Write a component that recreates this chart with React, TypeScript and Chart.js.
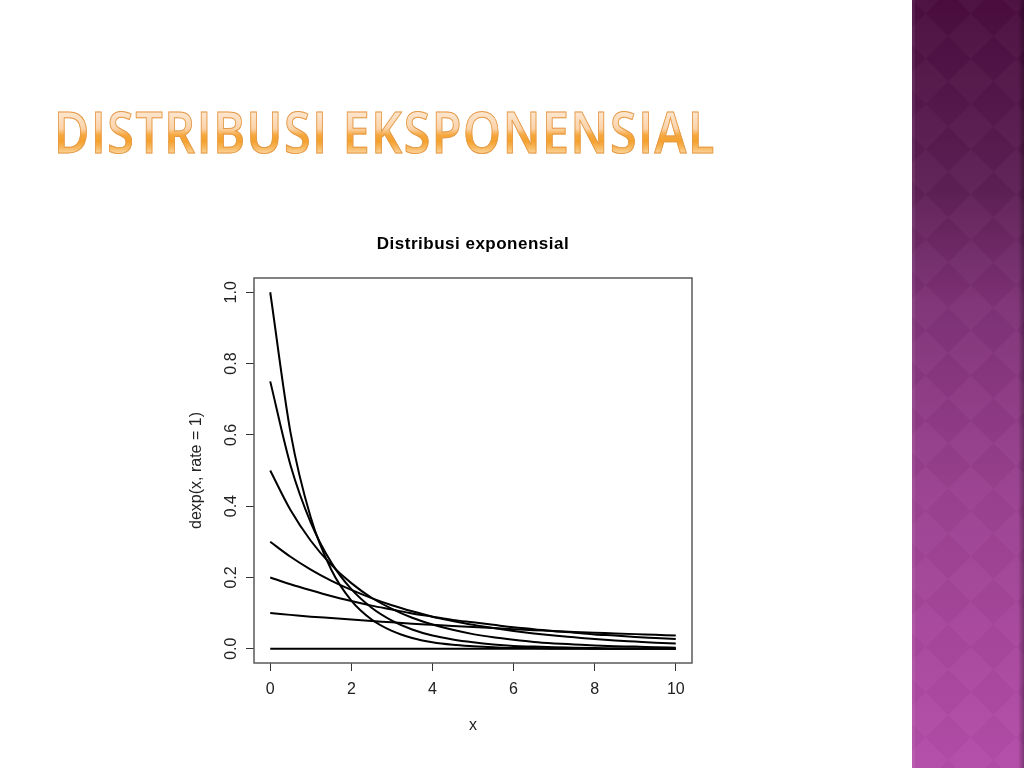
import { useEffect, useLayoutEffect, useRef } from 'react'
import { Chart, registerables, Plugin } from 'chart.js'

Chart.register(...registerables)

const slideTitle = 'DISTRIBUSI EKSPONENSIAL'
const chartTitle = 'Distribusi exponensial'
const xAxisTitle = 'x'
const yAxisTitle = 'dexp(x, rate = 1)'

const xValues = [0, 0.5, 1, 1.5, 2, 2.5, 3, 3.5, 4, 4.5, 5, 5.5, 6, 6.5, 7, 7.5, 8, 8.5, 9, 9.5, 10]

// one curve per rate
const rate1 = [1.0, 0.607, 0.368, 0.223, 0.135, 0.082, 0.05, 0.03, 0.018, 0.011, 0.007, 0.004, 0.002, 0.002, 0.001, 0.001, 0.0, 0.0, 0.0, 0.0, 0.0]
const rate075 = [0.75, 0.515, 0.354, 0.243, 0.167, 0.115, 0.079, 0.054, 0.037, 0.026, 0.018, 0.012, 0.008, 0.006, 0.004, 0.003, 0.002, 0.001, 0.001, 0.001, 0.0]
const rate05 = [0.5, 0.389, 0.303, 0.236, 0.184, 0.143, 0.112, 0.087, 0.068, 0.053, 0.041, 0.032, 0.025, 0.019, 0.015, 0.012, 0.009, 0.007, 0.006, 0.004, 0.003]
const rate03 = [0.3, 0.258, 0.222, 0.191, 0.165, 0.142, 0.122, 0.105, 0.09, 0.078, 0.067, 0.058, 0.05, 0.043, 0.037, 0.032, 0.027, 0.023, 0.02, 0.017, 0.015]
const rate02 = [0.2, 0.181, 0.164, 0.148, 0.134, 0.121, 0.11, 0.099, 0.09, 0.081, 0.074, 0.067, 0.06, 0.055, 0.049, 0.045, 0.04, 0.037, 0.033, 0.03, 0.027]
const rate01 = [0.1, 0.095, 0.09, 0.086, 0.082, 0.078, 0.074, 0.07, 0.067, 0.064, 0.061, 0.058, 0.055, 0.052, 0.05, 0.047, 0.045, 0.043, 0.041, 0.039, 0.037]
const rate0 = [0, 0, 0, 0, 0, 0, 0, 0, 0, 0, 0, 0, 0, 0, 0, 0, 0, 0, 0, 0, 0]

const rateLabels = ['1', '0.75', '0.5', '0.3', '0.2', '0.1', '0']
const series = [rate1, rate075, rate05, rate03, rate02, rate01, rate0]

const xTicks = [0, 2, 4, 6, 8, 10]
const yTicks = [0, 0.2, 0.4, 0.6, 0.8, 1.0]

const FONT = '"Liberation Sans", Arial, Helvetica, sans-serif'

const framePlugin: Plugin<'line'> = {
  id: 'frame',
  afterDraw(chart) {
    const { ctx, chartArea: a, scales } = chart
    ctx.save()
    ctx.strokeStyle = '#5a5a5a'
    ctx.lineWidth = 1.5
    ctx.strokeRect(a.left, a.top, a.right - a.left, a.bottom - a.top)

    // y tick labels are rotated like in R
    ctx.fillStyle = '#222'
    ctx.font = `16px ${FONT}`
    ctx.textAlign = 'center'
    ctx.textBaseline = 'middle'
    for (const v of yTicks) {
      const py = scales.y.getPixelForValue(v)
      ctx.save()
      ctx.translate(a.left - 22, py)
      ctx.rotate(-Math.PI / 2)
      ctx.fillText(v.toFixed(1), 0, 0)
      ctx.restore()
    }

    ctx.fillStyle = '#000'
    ctx.font = `bold 17px ${FONT}`
    ctx.textBaseline = 'alphabetic'
    ;(ctx as any).letterSpacing = '0.5px'
    ctx.fillText(chartTitle, (a.left + a.right) / 2, a.top - 29.5)
    ctx.restore()
  },
}

function ExpChart() {
  const canvasRef = useRef<HTMLCanvasElement>(null)
  const chartRef = useRef<Chart | null>(null)

  useEffect(() => {
    if (!canvasRef.current) return
    if (chartRef.current) chartRef.current.destroy()

    chartRef.current = new Chart(canvasRef.current, {
      type: 'line',
      data: {
        datasets: series.map((ys, i) => ({
          label: rateLabels[i],
          data: xValues.map((x, j) => ({ x, y: ys[j] })),
          borderColor: '#000',
          borderWidth: 2,
          pointRadius: 0,
          fill: false,
          cubicInterpolationMode: 'monotone' as const,
        })),
      },
      options: {
        animation: false,
        responsive: true,
        maintainAspectRatio: false,
        layout: { padding: { left: 0, right: 84, top: 58, bottom: 0 } },
        plugins: {
          legend: { display: false },
          tooltip: { enabled: false },
          title: { display: false },
        },
        scales: {
          x: {
            type: 'linear',
            min: -0.4,
            max: 10.4,
            afterBuildTicks: (s) => {
              s.ticks = xTicks.map((v) => ({ value: v }))
            },
            afterFit: (s) => {
              s.height = 87
            },
            grid: { drawOnChartArea: false, drawTicks: true, tickLength: 8, color: '#333', lineWidth: 1 },
            border: { display: false },
            ticks: {
              padding: 9,
              color: '#222',
              font: { family: FONT, size: 16 },
              maxRotation: 0,
              callback: (v) => String(v),
            },
            title: {
              display: true,
              text: xAxisTitle,
              color: '#222',
              font: { family: FONT, size: 16 },
              padding: { top: 0, bottom: 15 },
            },
          },
          y: {
            type: 'linear',
            min: -0.04,
            max: 1.04,
            afterBuildTicks: (s) => {
              s.ticks = yTicks.map((v) => ({ value: v }))
            },
            afterFit: (s) => {
              s.width = 84
            },
            grid: { drawOnChartArea: false, drawTicks: true, tickLength: 8, color: '#333', lineWidth: 1 },
            border: { display: false },
            ticks: { display: false },
            title: {
              display: true,
              text: yAxisTitle,
              color: '#222',
              font: { family: FONT, size: 16 },
              padding: { top: 17, bottom: 0 },
            },
          },
        },
      },
      plugins: [framePlugin],
    })

    return () => {
      if (chartRef.current) {
        chartRef.current.destroy()
        chartRef.current = null
      }
    }
  }, [])

  return (
    <div style={{ position: 'absolute', left: 170, top: 220, width: 606, height: 530 }}>
      <canvas ref={canvasRef} />
    </div>
  )
}

function SlideTitle() {
  const ref = useRef<HTMLDivElement>(null)

  useLayoutEffect(() => {
    const el = ref.current
    if (!el) return
    el.style.transform = `scaleX(${662 / el.offsetWidth})`
  }, [])

  return (
    <div
      ref={ref}
      style={{
        position: 'absolute',
        left: 54,
        top: 102,
        fontFamily: '"Open Sans", sans-serif',
        fontWeight: 600,
        fontSize: 58,
        lineHeight: '58px',
        letterSpacing: 2,
        whiteSpace: 'nowrap',
        transformOrigin: 'left top',
        background:
          'linear-gradient(to bottom, #fde9d6 0%, #fde6cf 17%, #fbd3aa 46%, #f6a83e 57%, #f4a12e 68%, #f8bc66 80%, #fbd6a2 89%, #fbd6a2 100%)',
        WebkitBackgroundClip: 'text',
        backgroundClip: 'text',
        color: 'transparent',
        WebkitTextStroke: '1px #e49a48',
      }}
    >
      {slideTitle}
    </div>
  )
}

function SideStrip() {
  return (
    <div
      style={{
        position: 'absolute',
        left: 912,
        top: 0,
        width: 112,
        height: 768,
        overflow: 'hidden',
        background: 'linear-gradient(to bottom, #4a0c3e 0%, #5f2156 25%, #7f3277 40%, #9b4190 65%, #b34ca8 100%)',
      }}
    >
      <div
        style={{
          position: 'absolute',
          left: -300,
          top: -200,
          width: 712,
          height: 1168,
          transform: 'rotate(45deg)',
          backgroundImage:
            'conic-gradient(rgba(255,255,255,0.022) 0 25%, rgba(0,0,0,0.018) 0 50%, rgba(255,255,255,0.022) 0 75%, rgba(0,0,0,0.018) 0)',
          backgroundSize: '64px 64px',
        }}
      />
      <div style={{ position: 'absolute', left: 0, top: 0, width: 3, height: 768, background: 'rgba(255,255,255,0.07)' }} />
      <div
        style={{
          position: 'absolute',
          right: 0,
          top: 0,
          width: 6,
          height: 768,
          background: 'linear-gradient(to right, rgba(0,0,0,0), rgba(0,0,0,0.3))',
        }}
      />
    </div>
  )
}

export default function App() {
  return (
    <div style={{ position: 'absolute', left: 0, top: 0, width: 1024, height: 768, background: '#fff', overflow: 'hidden' }}>
      <SlideTitle />
      <ExpChart />
      <SideStrip />
    </div>
  )
}
